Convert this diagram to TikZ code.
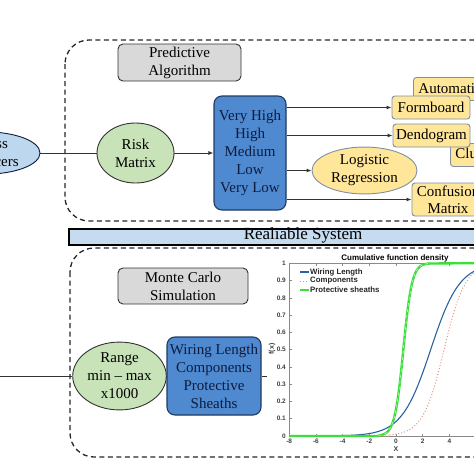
\documentclass[tikz,border=0pt]{standalone}
\usepackage{fontspec}
\setmainfont{Liberation Serif}
\newfontfamily\plotfont{Liberation Sans}
\usetikzlibrary{arrows.meta,shapes.geometric}
\definecolor{greyfill}{HTML}{D9D9D9}
\definecolor{lbfill}{HTML}{BDD7EE}
\definecolor{grfill}{HTML}{C9E3B8}
\definecolor{bbfill}{HTML}{4F8AD0}
\definecolor{bbdraw}{HTML}{1F3A63}
\definecolor{ylfill}{HTML}{FFE699}
\definecolor{yldraw}{HTML}{7F8FA6}
\definecolor{barfill}{HTML}{C5DCF0}
\definecolor{txtnavy}{HTML}{0D1B3E}
\definecolor{wlblue}{HTML}{2A62A0}
\definecolor{cpred}{HTML}{E8927C}
\definecolor{psgreen}{HTML}{3ADF3A}
\definecolor{psgreenl}{HTML}{A8F0A8}
\definecolor{axgrey}{HTML}{8A8A8A}
\tikzset{
  txt/.style={font=\fontsize{15}{18}\selectfont, align=center, inner sep=1pt},
  greybox/.style={txt, draw=black!80, fill=greyfill, rounded corners=5pt, line width=0.9pt},
  lbell/.style={txt, ellipse, draw=txtnavy, fill=lbfill, line width=0.9pt},
  grell/.style={txt, ellipse, draw=black!80, fill=grfill, line width=0.9pt},
  bluebox/.style={txt, draw=bbdraw, fill=bbfill, rounded corners=8pt, line width=1.1pt, text=txtnavy},
  ylbox/.style={txt, draw=yldraw, fill=ylfill, rounded corners=3pt, line width=0.9pt},
  ylell/.style={txt, ellipse, draw=yldraw, fill=ylfill, line width=0.9pt},
  dashbox/.style={draw=black!85, line width=1.3pt, dash pattern=on 5pt off 3.5pt, rounded corners=24pt},
  conn/.style={draw=black!80, line width=0.9pt},
  arr/.style={conn, -{Latex[length=5pt,width=4pt]}},
  tick/.style={draw=axgrey, line width=0.6pt},
  ticklab/.style={font=\plotfont\bfseries\fontsize{6.5}{7}\selectfont, text=black!75, inner sep=0pt},
  leglab/.style={ticklab, font=\plotfont\bfseries\fontsize{7.8}{8}\selectfont, text=black!85, anchor=west},
}
\begin{document}
\begin{tikzpicture}[x=1pt,y=-1pt]
\useasboundingbox (0,0) rectangle (474,474);
\clip (0,0) rectangle (474,474);

% dashed group boxes
\draw[dashbox] (65,40) rectangle (520,221);
\draw[dashbox] (70,248) rectangle (520,457);

% top part
\node[greybox, minimum width=123pt, minimum height=37pt] (pa) at (179.5,62.5) {Predictive\\Algorithm};
\node[lbell, minimum width=110pt, minimum height=40pt] (pi) at (-15,153) {Process\\Influencers};
\node[grell, minimum width=77pt, minimum height=60pt] (rm) at (135.5,153) {Risk\\Matrix};
\node[bluebox, minimum width=72pt, minimum height=114pt] (vh) at (250,153) {Very High\\High\\Medium\\Low\\Very Low};

\node[ylbox, anchor=north west, minimum width=80pt, minimum height=23pt, text width=70pt, align=left] (au) at (413,77) {Automation};
\node[ylbox, minimum width=78pt, minimum height=23pt] (fb) at (431,107.5) {Formboard};
\node[ylbox, anchor=north west, minimum width=60pt, minimum height=23pt, text width=50pt, align=left] (cl) at (450,143) {Clustering};
\node[ylbox, minimum width=77pt, minimum height=23pt] (dg) at (431.5,135.5) {Dendogram};
\node[ylell, minimum width=105pt, minimum height=41pt] (lr) at (364.5,170.5) {Logistic\\Regression};
\node[ylbox, minimum width=72pt, minimum height=33pt, font=\fontsize{15}{17}\selectfont] (cm) at (448,199.5) {Confusion\\Matrix};

\draw[conn] (pi.east) -- (rm.west);
\draw[arr] (rm.east) -- (vh.west);
\draw[arr] (vh.east |- fb.west) -- (fb.west);
\draw[arr] (vh.east |- dg.west) -- (dg.west);
\draw[arr] (vh.east |- lr.west) -- (lr.west);
\draw[arr] (vh.east |- cm.west) -- (cm.west);

% bar
\node[draw=black, line width=1.5pt, fill=barfill, anchor=north west, minimum width=420pt, minimum height=16pt, inner sep=0pt] (bar) at (68,228) {};
\node[font=\fontsize{17}{18}\selectfont, inner sep=0pt] (bart) at (303,235) {Realiable System};

% bottom part
\node[greybox, minimum width=130pt, minimum height=36pt] (mc) at (183,286) {Monte Carlo\\Simulation};
\node[grell, minimum width=77pt, minimum height=61pt] (rg) at (119.5,376) {Range\\min -- max\\x1000};
\node[bluebox, minimum width=94pt, minimum height=78pt] (wl) at (214,376) {Wiring Length\\Components\\Protective\\Sheaths};
\coordinate (lin) at (0,376);
\coordinate (pin) at (267,376);
\draw[conn] (lin) -- (rg.west);
\draw[conn] (rg.east) -- (wl.west);
\draw[conn] (wl.east) -- (pin);

% plot
\node[font=\plotfont\bfseries\fontsize{8}{9}\selectfont, inner sep=0pt] (ptitle) at (395,258) {Cumulative function density};
\draw[tick] (289,263.5) -- (289,436) -- (480,436);
\draw[tick] (289,263.5) -- (480,263.5);
\foreach \v/\l in {0/0,1/0.1,2/0.2,3/0.3,4/0.4,5/0.5,6/0.6,7/0.7,8/0.8,9/0.9,10/1} {
  \draw[tick] (289,{436-17.25*\v}) -- (291.5,{436-17.25*\v});
  \node[ticklab, anchor=east] (yl\v) at (286,{436-17.25*\v}) {\l};
}
\foreach \v in {-8,-6,-4,-2,0,2,4} {
  \draw[tick] ({396+13.35*\v},436) -- ({396+13.35*\v},433.5);
  \draw[tick] ({396+13.35*\v},263.5) -- ({396+13.35*\v},266);
  \node[ticklab] (xl\v) at ({396+13.35*\v},441.5) {\v};
}
\node[ticklab, font=\plotfont\bfseries\fontsize{7}{8}\selectfont] (xlab) at (396,449.5) {X};
\node[ticklab, font=\plotfont\bfseries\fontsize{7}{8}\selectfont, rotate=90] (ylab) at (272,349) {f(x)};

% curves
\draw[wlblue, line width=1.1pt] (289,436) -- ({396+13.35*(-4)},436)
  plot[domain=-4:6.2, samples=70, smooth] ({396+13.35*\x},{436-173/(1+exp(-1.702*(\x-2.6)/1.85))});
\draw[cpred, line width=1pt, dotted] (289,436) -- ({396+13.35*(-0.5)},436)
  plot[domain=-0.5:6.2, samples=60, smooth] ({396+13.35*\x},{436-173/(1+exp(-1.702*(\x-3.6)/1.35))});
\draw[psgreen, line width=2.4pt] (289,436) -- ({396+13.35*(-1.3)},436)
  plot[domain=-1.3:2.4, samples=60, smooth] ({396+13.35*\x},{436-173/(1+exp(-1.702*(\x-0.55)/0.55))})
  -- (480,263);
\draw[psgreenl, line width=0.8pt, dash pattern=on 3pt off 3pt]
  plot[domain=-1.3:2.4, samples=60, smooth] ({396+13.35*\x},{436-173/(1+exp(-1.702*(\x-0.55)/0.55))});

% legend
\draw[wlblue, line width=1.1pt] (300,272) -- (309,272);
\draw[cpred, line width=1pt, dotted] (300,281) -- (309,281);
\draw[psgreen, line width=2.2pt] (300,290) -- (309,290);
\node[leglab] (lg1) at (310,272) {Wiring Length};
\node[leglab] (lg2) at (310,281) {Components};
\node[leglab] (lg3) at (310,290) {Protective sheaths};
\end{tikzpicture}
\end{document}
